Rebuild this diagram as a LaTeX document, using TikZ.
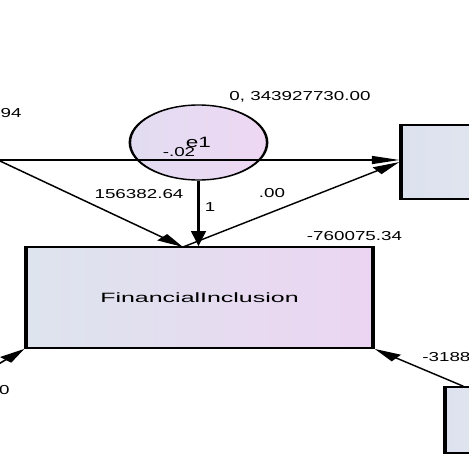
\documentclass[tikz,border=0pt]{standalone}
\usepackage{graphicx}
\usepackage{fontspec}
\setmainfont{Liberation Sans}
\usetikzlibrary{arrows.meta}
\definecolor{boxL}{RGB}{221,228,238}
\definecolor{boxR}{RGB}{236,213,242}
\definecolor{elL}{RGB}{226,221,241}
\definecolor{elR}{RGB}{238,215,243}
\definecolor{gboxL}{RGB}{220,226,238}
\definecolor{gboxR}{RGB}{226,229,240}
\newcommand{\nx}[2]{\scalebox{#1}[1]{#2}}
\tikzset{
  varbox/.style={draw=black, line width=1.8pt, rectangle, inner sep=0pt},
  conn/.style={draw=black, line width=1.25pt, -{Triangle[length=15pt,width=8pt]}},
  lbl/.style={font=\fontsize{13}{13}\selectfont, inner sep=0pt},
}
\begin{document}
\begin{tikzpicture}[x=1pt,y=-1pt]
\useasboundingbox (0,0) rectangle (469,469);
\fill[white] (0,0) rectangle (469,469);
\begin{scope}[transform canvas={xscale=1.83}, x=0.546448pt, y=-1pt]
  % nodes
  \node[varbox, minimum width=189.6pt, minimum height=101pt, left color=boxL, right color=boxR]
    (fi) at (199.5,297.5) {\fontsize{13.5}{13.5}\selectfont\nx{1.01}{FinancialInclusion}};
  \node[varbox, minimum width=54.6pt, minimum height=74pt, left color=gboxL, right color=gboxR]
    (rt) at (451,162) {};
  \node[varbox, minimum width=19.7pt, minimum height=66pt, left color=gboxL, right color=gboxR]
    (br) at (463,420) {};
  \node[draw=black, circle, line width=1.4pt, minimum size=75pt, inner sep=0pt,
        left color=elL, right color=elR]
    (e1) at (198.5,142.5) {\fontsize{15}{15}\selectfont\nx{0.82}{e1}};
  % free ends
  \coordinate (srcH) at (-5,160);
  \coordinate (srcD) at (0,161);
  \coordinate (srcBL) at (-10,369);
  \coordinate (fiA) at (183,247);
  % connectors
  \draw[conn] (srcH) -- (srcH -| rt.west);
  \draw[conn] (srcD) -- (fiA);
  \draw[conn] (e1.south) -- (e1.south |- fi.north);
  \draw[conn] (fiA) -- (rt.west);
  \draw[conn] (srcBL) -- (fi.south west);
  \draw[conn] (br.north) -- (fi.south east);
  % labels
  \node[lbl, anchor=east] (l94) at (22,113) {\nx{0.79}{94}};
  \node[lbl] (lvar) at (300,97) {\nx{0.79}{0, 343927730.00}};
  \node[lbl] (lcov) at (179,152.5) {\nx{0.79}{-.02}};
  \node[lbl] (lw1) at (139,194) {\nx{0.79}{156382.64}};
  \node[lbl] (lone) at (210,207) {\nx{0.79}{1}};
  \node[lbl] (lw2) at (272,193) {\nx{0.79}{.00}};
  \node[lbl] (lint) at (354.5,236) {\nx{0.79}{-760075.34}};
  \node[lbl, anchor=west] (lw3) at (422,357) {\nx{0.79}{-3188}};
  \node[lbl, anchor=east] (l0) at (10,390) {\nx{0.79}{0}};
\end{scope}
\end{tikzpicture}
\end{document}
